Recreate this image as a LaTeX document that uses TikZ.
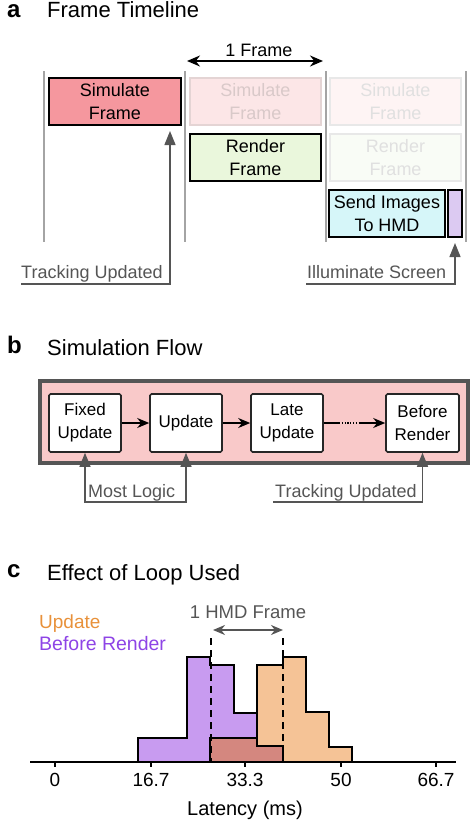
\documentclass[tikz,border=0pt]{standalone}
\usepackage{fontspec}
\setmainfont{Liberation Sans}
\usetikzlibrary{arrows.meta}
\definecolor{annotgray}{HTML}{555555}
\definecolor{linegray}{HTML}{A4A4A4}
\definecolor{simfill}{HTML}{F5979E}
\definecolor{renfill}{HTML}{EAF7DC}
\definecolor{sendfill}{HTML}{D6F6F9}
\definecolor{illfill}{HTML}{DCCAF2}
\definecolor{simfadeA}{HTML}{FCE6E7}
\definecolor{simfadeAdraw}{HTML}{E4D4D4}
\definecolor{simfadeAtext}{HTML}{D9C9C9}
\definecolor{simfadeB}{HTML}{FEF4F4}
\definecolor{fadeBdraw}{HTML}{E8E8E8}
\definecolor{fadeBtext}{HTML}{E0E0E0}
\definecolor{renfadeB}{HTML}{F9FCF6}
\definecolor{flowbg}{HTML}{F9C9C9}
\definecolor{flowdraw}{HTML}{555555}
\definecolor{purplefill}{HTML}{C89BF0}
\definecolor{orangefill}{HTML}{F5C396}
\definecolor{brownfill}{HTML}{D4877F}
\definecolor{purpletext}{HTML}{8E44E6}
\definecolor{orangetext}{HTML}{E8913A}
\begin{document}
\begin{tikzpicture}[x=1pt,y=-1pt,
  tbox/.style={draw, line width=2.5pt, minimum height=47pt, inner sep=0pt, align=center,
    font=\fontsize{18}{23}\selectfont},
  fbox/.style={draw=black!85, fill=white, line width=1.6pt, rounded corners=1.5pt,
    minimum height=58pt, minimum width=72pt, inner sep=0pt, align=center,
    font=\fontsize{17}{23}\selectfont},
  tline/.style={draw=linegray, line width=2.5pt},
  annot/.style={draw=annotgray, line width=1.3pt, -{Triangle[length=14pt,width=11pt]}},
  lbl/.style={text=annotgray, font=\fontsize{18}{22}\selectfont, inner sep=0pt},
  head/.style={font=\fontsize{22}{25}\selectfont, anchor=base west, inner sep=0pt},
  letter/.style={font=\bfseries\fontsize{24}{26}\selectfont, anchor=base west, inner sep=0pt, text height=14pt},
  flow/.style={line width=1.5pt, -{Stealth[length=12pt,width=10pt]}},
  tick/.style={font=\fontsize{19}{22}\selectfont, anchor=base, inner sep=0pt},
  hist/.style={draw=black, line width=2pt, line join=miter}
]
\useasboundingbox (0,0) rectangle (474,825);

% ---------------- panel a ----------------
\node[letter] (la) at (7,17) {a};
\node[head] (ha) at (47,17) {Frame Timeline};

\draw[tline] (44,71) -- (44,242);
\draw[tline] (185,71) -- (185,242);
\draw[tline] (326,71) -- (326,242);
\draw[tline] (466,71) -- (466,242);

\coordinate (fa) at (187,61);
\coordinate (fb) at (323,61);
\draw[line width=1.5pt, {Stealth[length=13pt,width=11pt]}-{Stealth[length=13pt,width=11pt]}] (fa) -- (fb);
\node[font=\fontsize{18}{22}\selectfont, anchor=base, inner sep=0pt] (oneframe) at (259,56) {1 Frame};

\node[tbox, fill=simfill, minimum width=132pt] (sim1) at (115,101.5) {Simulate\\Frame};
\node[tbox, fill=simfadeA, draw=simfadeAdraw, text=simfadeAtext, minimum width=131pt] (sim2) at (255.5,101.5) {Simulate\\Frame};
\node[tbox, fill=simfadeB, draw=fadeBdraw, text=fadeBtext, minimum width=131pt] (sim3) at (395.5,101.5) {Simulate\\Frame};
\node[tbox, fill=renfill, minimum width=131pt] (ren2) at (255.5,157.5) {Render\\Frame};
\node[tbox, fill=renfadeB, draw=fadeBdraw, text=fadeBtext, minimum width=131pt] (ren3) at (395.5,157.5) {Render\\Frame};
\node[tbox, fill=sendfill, minimum width=116pt] (send) at (387,213.5) {Send Images\\To HMD};
\node[tbox, fill=illfill, minimum width=14pt] (illum) at (455,213.5) {};

\node[lbl, anchor=base west] (trackA) at (21,278) {Tracking Updated};
\coordinate (ta1) at (21,284);
\coordinate (ta2) at (170,131);
\draw[annot] (ta1) -| (ta2);

\node[lbl, anchor=base west] (illA) at (307,278) {Illuminate Screen};
\coordinate (ia1) at (306,284);
\coordinate (ia2) at (455,243);
\draw[annot] (ia1) -| (ia2);

% ---------------- panel b ----------------
\node[letter] (lb) at (7,353) {b};
\node[head] (hb) at (47,355) {Simulation Flow};

\node[draw=flowdraw, fill=flowbg, line width=3.5pt, minimum width=428pt, minimum height=82pt, inner sep=0pt] (flowbox) at (254,422) {};

\node[fbox] (fixed) at (85,423) {Fixed\\Update};
\node[fbox] (update) at (186,423) {Update};
\node[fbox] (late) at (287,423) {Late\\Update};
\node[fbox, minimum width=73pt] (before) at (422.5,423) {Before\\Render};

\draw[flow] (fixed.east) -- (update.west);
\draw[flow] (update.east) -- (late.west);
\coordinate (d1) at (339,423);
\coordinate (d2) at (359,423);
\draw[line width=1.5pt] (late.east) -- (d1);
\draw[line width=1.5pt, dash pattern=on 1.2pt off 1.6pt] (d1) -- (d2);
\draw[flow] (d2) -- (before.west);

\node[lbl, anchor=base west] (mostlogic) at (88,497) {Most Logic};
\coordinate (mlb) at (135,502);
\draw[annot, {Triangle[length=14pt,width=11pt]}-{Triangle[length=14pt,width=11pt]}] (fixed.south) |- (mlb) -| (update.south);

\node[lbl, anchor=base west] (trackB) at (275,497) {Tracking Updated};
\coordinate (tb1) at (273,502);
\draw[annot] (tb1) -| (before.south);

% ---------------- panel c ----------------
\node[letter] (lc) at (7,577) {c};
\node[head] (hc) at (47,580) {Effect of Loop Used};

\node[font=\fontsize{19}{22}\selectfont, text=orangetext, anchor=base west, inner sep=0pt] (legU) at (39,628) {Update};
\node[font=\fontsize{19.5}{22}\selectfont, text=purpletext, anchor=base west, inner sep=0pt] (legB) at (39,650) {Before Render};

% histograms
\fill[purplefill] (138,762) -- (138,738) -- (187,738) -- (187,657) -- (210,657) -- (210,665)
  -- (234,665) -- (234,713) -- (257,713) -- (257,746) -- (283,746) -- (283,762) -- cycle;
\fill[orangefill] (210,762) -- (210,738) -- (257,738) -- (257,665) -- (283,665) -- (283,657)
  -- (306,657) -- (306,712) -- (329,712) -- (329,747) -- (352,747) -- (352,762) -- cycle;
\fill[brownfill] (210,762) -- (210,738) -- (257,738) -- (257,746) -- (283,746) -- (283,762) -- cycle;
\draw[hist] (138,762) -- (138,738) -- (187,738) -- (187,657) -- (210,657) -- (210,665)
  -- (234,665) -- (234,713) -- (257,713) -- (257,746) -- (283,746) -- (283,762);
\draw[hist] (210,762) -- (210,738) -- (257,738) -- (257,665) -- (283,665) -- (283,657)
  -- (306,657) -- (306,712) -- (329,712) -- (329,747) -- (352,747) -- (352,762);

% axis
\coordinate (ax1) at (30,762);
\coordinate (ax2) at (456,762);
\draw[line width=2pt] (ax1) -- (ax2);
\foreach \x in {55,151,245,341,436} \draw[line width=1.5pt] (\x,762) -- (\x,767);

\node[tick] (t0) at (55,786) {0};
\node[tick] (t1) at (151,786) {16.7};
\node[tick] (t2) at (245,786) {33.3};
\node[tick] (t3) at (341,786) {50};
\node[tick] (t4) at (436,786) {66.7};
\node[font=\fontsize{20}{24}\selectfont, anchor=base, inner sep=0pt] (xlab) at (245,815) {Latency (ms)};

% dashed frame lines
\coordinate (dA1) at (211,638);
\coordinate (dA2) at (211,762);
\coordinate (dB1) at (283,638);
\coordinate (dB2) at (283,762);
\draw[line width=2pt, dash pattern=on 7pt off 5pt] (dA1) -- (dA2);
\draw[line width=2pt, dash pattern=on 7pt off 5pt] (dB1) -- (dB2);

\node[font=\fontsize{18.5}{22}\selectfont, text=annotgray, anchor=base, inner sep=0pt] (hmd) at (248,618) {1 HMD Frame};
\coordinate (ha1) at (213,630);
\coordinate (ha2) at (283,630);
\draw[draw=annotgray, line width=1.5pt, {Stealth[length=12pt,width=10pt]}-{Stealth[length=12pt,width=10pt]}] (ha1) -- (ha2);
\end{tikzpicture}
\end{document}
